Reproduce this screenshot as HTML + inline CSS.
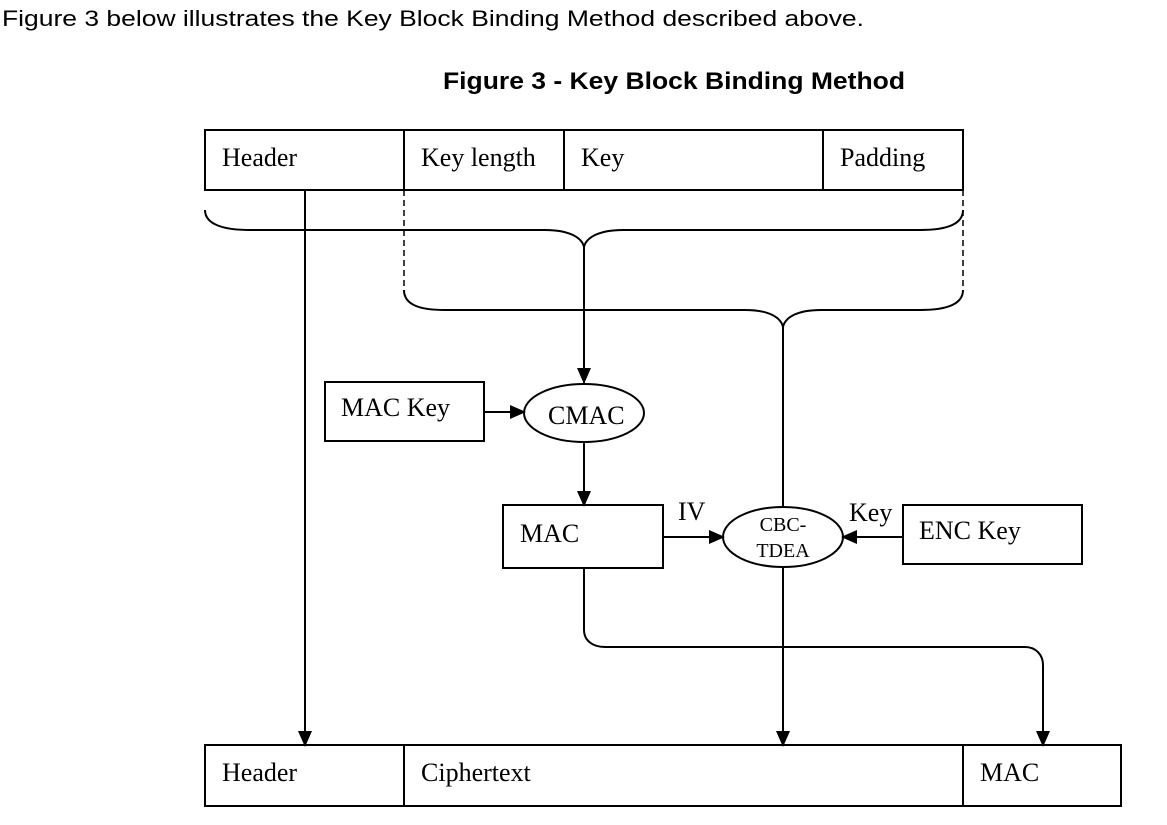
<!DOCTYPE html>
<html><head><meta charset="utf-8"><style>
html,body{margin:0;padding:0;background:#fff;width:1167px;height:825px;overflow:hidden}
svg{display:block}
.s{font-family:"Liberation Sans",Arial,sans-serif}
.t{font-family:"Liberation Serif","Times New Roman",serif;font-size:26px}
</style></head><body>
<svg width="1167" height="825" viewBox="0 0 1167 825" xmlns="http://www.w3.org/2000/svg">
<defs><marker id="a" markerWidth="16" markerHeight="14" refX="15" refY="7" orient="auto" markerUnits="userSpaceOnUse"><path d="M0,0 L16,7 L0,14 Z" fill="#000"/></marker></defs>
<text x="2" y="26" class="s" font-size="22" textLength="862" lengthAdjust="spacingAndGlyphs">Figure 3 below illustrates the Key Block Binding Method described above.</text>
<text x="443" y="89" class="s" font-size="24" font-weight="bold" textLength="462" lengthAdjust="spacingAndGlyphs">Figure 3 - Key Block Binding Method</text>
<g fill="none" stroke="#000" stroke-width="2">
<rect x="205" y="130" width="758" height="60"/>
<line x1="404" y1="130" x2="404" y2="190"/><line x1="564" y1="130" x2="564" y2="190"/><line x1="823" y1="130" x2="823" y2="190"/>
<path d="M205,210 C205,225 225,230 250,230 L545,230 C570,230 582,238 584,247 C586,238 598,230 623,230 L920,230 C945,230 963,225 963,210"/>
<line x1="404" y1="190" x2="404" y2="290" stroke-dasharray="6,4" stroke-width="1.5"/>
<line x1="963" y1="190" x2="963" y2="290" stroke-dasharray="6,4" stroke-width="1.5"/>
<path d="M404,290 C404,305 420,310 445,310 L745,310 C770,310 781,318 783,327 C785,318 796,310 821,310 L920,310 C945,310 963,305 963,290"/>
<line x1="584" y1="247" x2="584" y2="383" marker-end="url(#a)"/>
<line x1="783" y1="327" x2="783" y2="507"/>
<line x1="305" y1="190" x2="305" y2="746" marker-end="url(#a)"/>
<rect x="325" y="382" width="159" height="59"/>
<line x1="484" y1="412" x2="525" y2="412" marker-end="url(#a)"/>
<ellipse cx="584" cy="413" rx="60" ry="29"/>
<line x1="584" y1="442" x2="584" y2="506" marker-end="url(#a)"/>
<rect x="503" y="505" width="160" height="63"/>
<line x1="663" y1="537" x2="724" y2="537" marker-end="url(#a)"/>
<ellipse cx="783" cy="537" rx="60" ry="30"/>
<rect x="903" y="505" width="179" height="59"/>
<line x1="903" y1="537" x2="842" y2="537" marker-end="url(#a)"/>
<path d="M584,568 L584,630 C584,640 592,647 605,647 L1025,647 C1036,647 1043,655 1043,665 L1043,746" marker-end="url(#a)"/>
<line x1="783" y1="567" x2="783" y2="746" marker-end="url(#a)"/>
<rect x="205" y="745" width="916" height="61"/>
<line x1="404" y1="745" x2="404" y2="806"/><line x1="963" y1="745" x2="963" y2="806"/>
</g>
<g class="t" fill="#000">
<text x="222" y="166">Header</text>
<text x="421" y="166">Key length</text>
<text x="581" y="166">Key</text>
<text x="840" y="166">Padding</text>
<text x="341" y="416">MAC Key</text>
<text x="548" y="424">CMAC</text>
<text x="520" y="542">MAC</text>
<text x="678" y="520">IV</text>
<text x="849" y="521">Key</text>
<text x="919" y="539">ENC Key</text>
<text x="783" y="531" text-anchor="middle" font-size="20">CBC-</text>
<text x="783" y="557" text-anchor="middle" font-size="20">TDEA</text>
<text x="222" y="781">Header</text>
<text x="421" y="781">Ciphertext</text>
<text x="980" y="781">MAC</text>
</g>
</svg>
</body></html>
